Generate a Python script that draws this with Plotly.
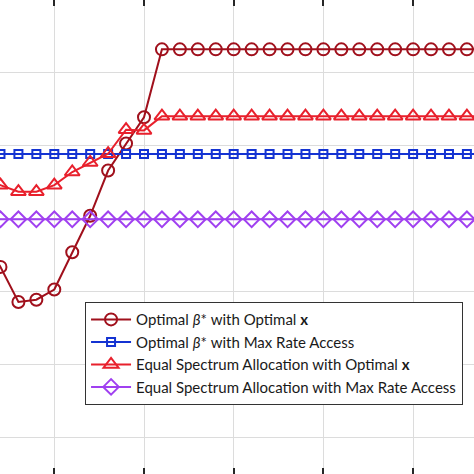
import plotly.graph_objects as go

x = list(range(1, 30))

# Optimal beta* with optimal x
opt_opt = [2.75, 2.34, 1.86, 1.89, 2.03, 2.54, 3.04, 3.66, 4.03, 4.39] + [5.32] * 19
# Optimal beta* with max rate access
opt_max = [3.886] * 29
# Equal spectrum allocation with optimal x
eq_opt = [3.55, 3.46, 3.37, 3.37, 3.46, 3.64, 3.77, 3.89, 4.22, 4.21] + [4.405] * 19
# Equal spectrum allocation with max rate access
eq_max = [2.992] * 29

names = [
    "Optimal <i>β</i>* with Optimal <b>x</b>",
    "Optimal <i>β</i>* with Max Rate Access",
    "Equal Spectrum Allocation with Optimal <b>x</b>",
    "Equal Spectrum Allocation with Max Rate Access",
]
series = [opt_opt, opt_max, eq_opt, eq_max]
colors = ["#A0101C", "#1433D2", "#E8202C", "#A040F0"]
symbols = ["circle-open", "square-open", "triangle-up-open", "diamond-open"]
sizes = [12, 8, 13, 12]

fig = go.Figure()
for n, s, c, sym, sz in zip(names, series, colors, symbols, sizes):
    fig.add_trace(go.Scatter(
        x=x, y=s, name=n, mode="lines+markers",
        line=dict(color=c, width=2),
        marker=dict(symbol=sym, size=sz, color=c, line=dict(width=2, color=c)),
    ))

# top axis for mirrored ticks
fig.add_trace(go.Scatter(x=[x[0]], y=[opt_max[0]], xaxis="x2", showlegend=False,
                         mode="markers", marker=dict(opacity=0), hoverinfo="skip"))

xr = [1.973, 28.395]
fig.update_layout(
    width=474, height=474,
    margin=dict(l=0, r=0, t=0, b=0),
    paper_bgcolor="white", plot_bgcolor="white",
    font=dict(family="Lato", size=15, color="#1a1a1a"),
    xaxis=dict(range=xr, dtick=5, tick0=0, showgrid=True, gridcolor="#DCDCDC", gridwidth=1.3,
               zeroline=False, showline=False, ticks="inside", ticklen=6, tickwidth=1.5,
               tickcolor="#262626", showticklabels=False),
    xaxis2=dict(range=xr, dtick=5, tick0=0, overlaying="x", side="top", showgrid=False,
                zeroline=False, showline=False, ticks="inside", ticklen=6, tickwidth=1.5,
                tickcolor="#262626", showticklabels=False),
    yaxis=dict(range=[-0.497, 5.996], dtick=1, tick0=0, showgrid=True, gridcolor="#DCDCDC",
               gridwidth=1.3, zeroline=False, showline=False, showticklabels=False, ticks=""),
    legend=dict(x=0.179, y=0.363, xanchor="left", yanchor="top",
                bgcolor="white", bordercolor="#333", borderwidth=1.2,
                font=dict(family="Lato", size=15, color="#1a1a1a"),
                tracegroupgap=0, itemwidth=40),
    showlegend=True,
)

fig.write_html("out.html")
